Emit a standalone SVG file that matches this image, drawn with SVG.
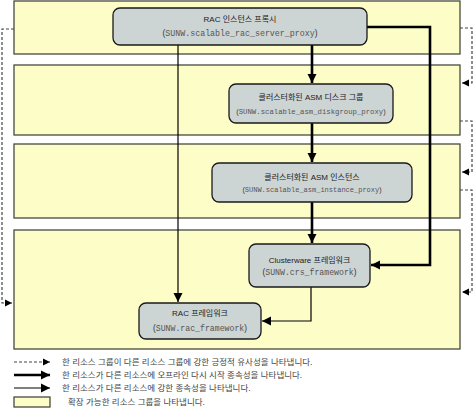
<svg xmlns="http://www.w3.org/2000/svg" width="474" height="411" viewBox="0 0 474 411">
<style>
.grp{fill:#fdfdc8;stroke:#4a4a40;stroke-width:1.3}
.node{fill:#cdd4d4;stroke:#1a1a1a;stroke-width:1.3}
.t{font-family:"Liberation Sans","Noto Sans CJK KR",sans-serif;font-size:8px;fill:#222;text-anchor:middle}
.m{font-family:"Liberation Mono",monospace;fill:#555;text-anchor:middle}
.p{font-family:"Liberation Sans",sans-serif;fill:#333}
.lg{font-family:"Liberation Sans","Noto Sans CJK KR",sans-serif;font-size:8.5px;fill:#444}
.thick{fill:none;stroke:#000;stroke-width:2.6}
.thin{fill:none;stroke:#000;stroke-width:1.2}
.dash{fill:none;stroke:#444;stroke-width:1.2;stroke-dasharray:3,2}
</style>
<defs>
<marker id="ah" markerUnits="userSpaceOnUse" markerWidth="10" markerHeight="10" viewBox="0 0 10 10" refX="9" refY="5" orient="auto">
<path d="M0,0.5 L9,5 L0,9.5 z" fill="#000"/>
</marker>
<marker id="ahs" markerUnits="userSpaceOnUse" markerWidth="8" markerHeight="8" viewBox="0 0 10 10" refX="9" refY="5" orient="auto">
<path d="M0,0.5 L9,5 L0,9.5 z" fill="#000"/>
</marker>
</defs>
<g id="groups">
<rect class="grp" x="14" y="1" width="446" height="53"/>
<rect class="grp" x="14" y="65" width="446" height="70"/>
<rect class="grp" x="14" y="144" width="446" height="74"/>
<rect class="grp" x="14" y="230" width="446" height="119"/>
</g>
<g id="connectors">
<path class="dash" d="M14,29 H2 V303 H12" marker-end="url(#ahs)"/>
<path class="dash" d="M460,28 H472 V83 H462" marker-end="url(#ahs)"/>
<path class="dash" d="M460,121 H472 V172 H462" marker-end="url(#ahs)"/>
<path class="dash" d="M460,190 H472 V292 H462" marker-end="url(#ahs)"/>
<path class="thick" d="M312,45 V83" marker-end="url(#ah)"/>
<path class="thick" d="M312,123 V162" marker-end="url(#ah)"/>
<path class="thick" d="M312,202 V243" marker-end="url(#ah)"/>
<path class="thick" d="M367,27 H430 V265 H371" marker-end="url(#ah)"/>
<path class="thin" d="M178,45 V302" marker-end="url(#ah)"/>
<path class="thin" d="M311,287 V321 H262" marker-end="url(#ah)"/>
</g>
<g id="node1">
<rect class="node" x="113" y="8" width="254" height="37" rx="7"/>
<text class="t" x="240" y="22">RAC 인스턴스 프록시</text>
<text class="m" x="240" y="36" font-size="8.3"><tspan class="p">(</tspan>SUNW.scalable_rac_server_proxy<tspan class="p">)</tspan></text>
</g>
<g id="node2">
<rect class="node" x="229" y="84" width="164" height="39" rx="7"/>
<text class="t" x="311" y="100">클러스터화된 ASM 디스크 그룹</text>
<text class="m" x="311" y="114" font-size="7.3"><tspan class="p">(</tspan>SUNW.scalable_asm_diskgroup_proxy<tspan class="p">)</tspan></text>
</g>
<g id="node3">
<rect class="node" x="212" y="163" width="200" height="39" rx="7"/>
<text class="t" x="312" y="180">클러스터화된 ASM 인스턴스</text>
<text class="m" x="312" y="192" font-size="7"><tspan class="p">(</tspan>SUNW.scalable_asm_instance_proxy<tspan class="p">)</tspan></text>
</g>
<g id="node4">
<rect class="node" x="249" y="244" width="121" height="43" rx="7"/>
<text class="t" x="309.5" y="263">Clusterware 프레임워크</text>
<text class="m" x="309.5" y="275" font-size="8.2"><tspan class="p">(</tspan>SUNW.crs_framework<tspan class="p">)</tspan></text>
</g>
<g id="node5">
<rect class="node" x="139" y="303" width="122" height="36" rx="7"/>
<text class="t" x="200" y="316">RAC 프레임워크</text>
<text class="m" x="200" y="331" font-size="8.2"><tspan class="p">(</tspan>SUNW.rac_framework<tspan class="p">)</tspan></text>
</g>
<g id="legend">
<path class="dash" d="M14,362 H50" marker-end="url(#ahs)"/>
<path class="thick" d="M14,375 H50" marker-end="url(#ah)"/>
<path class="thin" d="M14,388 H50" marker-end="url(#ah)"/>
<rect class="grp" x="14" y="397" width="36" height="10"/>
<text class="lg" x="62" y="365">한 리소스 그룹이 다른 리소스 그룹에 강한 긍정적 유사성을 나타냅니다.</text>
<text class="lg" x="62" y="378">한 리소스가 다른 리소스에 오프라인 다시 시작 종속성을 나타냅니다.</text>
<text class="lg" x="62" y="391">한 리소스가 다른 리소스에 강한 종속성을 나타냅니다.</text>
<text class="lg" x="68" y="405">확장 가능한 리소스 그룹을 나타냅니다.</text>
</g>
</svg>
